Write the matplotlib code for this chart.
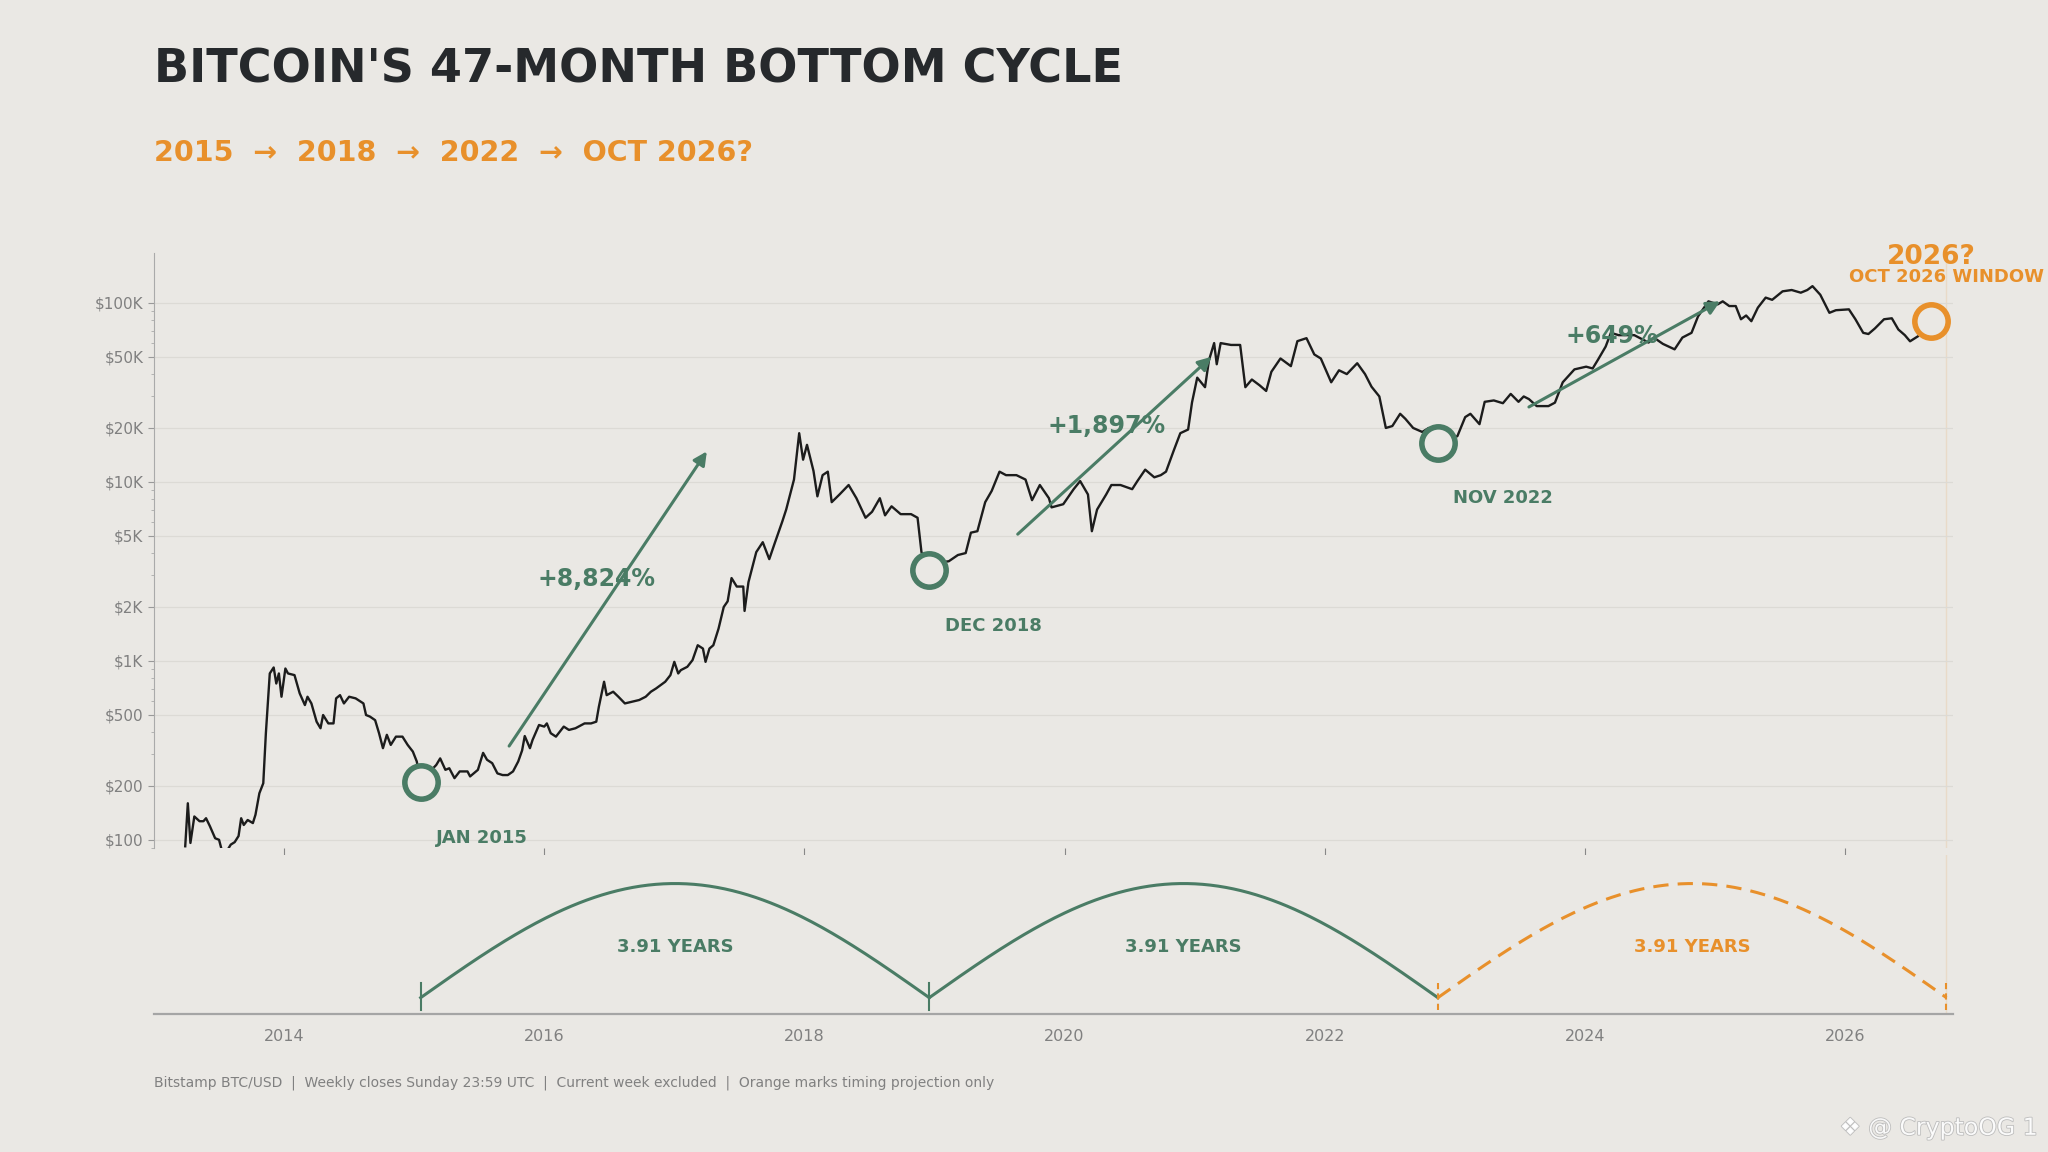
import numpy as np
import matplotlib
matplotlib.use('Agg')
import matplotlib.pyplot as plt
from matplotlib.ticker import NullFormatter, FixedLocator
import matplotlib.patheffects as pe

# weekly closes (decimal year, USD)
dates = [2013.24, 2013.26, 2013.28, 2013.31, 2013.35, 2013.38, 2013.40, 2013.43, 2013.47, 2013.50,
         2013.52, 2013.55, 2013.57, 2013.59, 2013.62, 2013.65, 2013.67, 2013.69, 2013.72, 2013.76,
         2013.78, 2013.81, 2013.84, 2013.86, 2013.89, 2013.92, 2013.94, 2013.96, 2013.98, 2014.01,
         2014.03, 2014.08, 2014.12, 2014.16, 2014.18, 2014.21, 2014.25, 2014.28, 2014.30, 2014.34,
         2014.38, 2014.40, 2014.43, 2014.46, 2014.50, 2014.55, 2014.61, 2014.63, 2014.66, 2014.70,
         2014.73, 2014.76, 2014.79, 2014.82, 2014.86, 2014.91, 2014.95, 2014.99, 2015.02, 2015.05,
         2015.08, 2015.12, 2015.17, 2015.20, 2015.24, 2015.27, 2015.31, 2015.35, 2015.41, 2015.43,
         2015.49, 2015.53, 2015.56, 2015.60, 2015.64, 2015.68, 2015.72, 2015.76, 2015.80, 2015.83,
         2015.85, 2015.89, 2015.91, 2015.96, 2016.00, 2016.02, 2016.05, 2016.09, 2016.15, 2016.19,
         2016.24, 2016.31, 2016.36, 2016.40, 2016.42, 2016.46, 2016.48, 2016.53, 2016.57, 2016.62,
         2016.67, 2016.73, 2016.78, 2016.82, 2016.86, 2016.93, 2016.97, 2017.00, 2017.03, 2017.05,
         2017.10, 2017.14, 2017.18, 2017.22, 2017.24, 2017.27, 2017.30, 2017.34, 2017.38, 2017.41,
         2017.44, 2017.48, 2017.53, 2017.54, 2017.57, 2017.63, 2017.68, 2017.73, 2017.77, 2017.83,
         2017.86, 2017.92, 2017.96, 2017.99, 2018.02, 2018.07, 2018.10, 2018.14, 2018.18, 2018.21,
         2018.27, 2018.34, 2018.40, 2018.47, 2018.52, 2018.58, 2018.62, 2018.67, 2018.74, 2018.82,
         2018.87, 2018.90, 2018.93, 2018.96, 2019.00, 2019.05, 2019.11, 2019.18, 2019.24, 2019.28,
         2019.33, 2019.39, 2019.44, 2019.50, 2019.55, 2019.63, 2019.70, 2019.75, 2019.81, 2019.88,
         2019.90, 2019.99, 2020.07, 2020.12, 2020.18, 2020.21, 2020.25, 2020.32, 2020.36, 2020.43,
         2020.52, 2020.56, 2020.62, 2020.69, 2020.74, 2020.78, 2020.84, 2020.89, 2020.95, 2020.98,
         2021.02, 2021.08, 2021.11, 2021.15, 2021.17, 2021.20, 2021.28, 2021.35, 2021.39, 2021.44,
         2021.50, 2021.55, 2021.59, 2021.66, 2021.74, 2021.79, 2021.86, 2021.92, 2021.97, 2022.05,
         2022.11, 2022.17, 2022.25, 2022.31, 2022.36, 2022.42, 2022.47, 2022.52, 2022.58, 2022.62,
         2022.68, 2022.75, 2022.80, 2022.87, 2022.92, 2023.02, 2023.08, 2023.12, 2023.19, 2023.23,
         2023.30, 2023.37, 2023.43, 2023.49, 2023.53, 2023.57, 2023.63, 2023.72, 2023.77, 2023.83,
         2023.92, 2024.01, 2024.06, 2024.10, 2024.16, 2024.20, 2024.26, 2024.38, 2024.49, 2024.53,
         2024.60, 2024.69, 2024.75, 2024.82, 2024.87, 2024.95, 2025.02, 2025.06, 2025.11, 2025.16,
         2025.20, 2025.24, 2025.28, 2025.33, 2025.39, 2025.44, 2025.52, 2025.59, 2025.66, 2025.71,
         2025.75, 2025.81, 2025.88, 2025.93, 2026.03, 2026.08, 2026.14, 2026.18, 2026.23, 2026.30,
         2026.36, 2026.41, 2026.46, 2026.50, 2026.56]
closes = [92, 160, 96, 135, 127, 127, 132, 119, 102, 100,
          88, 86, 89, 94, 97, 105, 132, 121, 129, 124,
          138, 182, 207, 394, 850, 918, 747, 850, 630, 906,
          850, 832, 658, 566, 630, 578, 457, 420, 498, 447,
          447, 617, 643, 578, 630, 617, 578, 498, 488, 466,
          394, 325, 386, 339, 377, 377, 339, 311, 274, 210,
          230, 240, 262, 285, 246, 251, 221, 241, 241, 226,
          246, 306, 280, 268, 235, 230, 230, 241, 274, 316,
          380, 325, 361, 438, 429, 447, 394, 377, 429, 411,
          420, 447, 447, 457, 554, 764, 643, 672, 630, 578,
          590, 604, 630, 672, 701, 764, 832, 987, 850, 887,
          926, 1009, 1222, 1171, 987, 1171, 1222, 1513, 2000, 2150,
          2900, 2600, 2600, 1900, 2750, 4050, 4600, 3700, 4500, 6000,
          7000, 10300, 18700, 13300, 16100, 11500, 8300, 10900, 11400, 7700,
          8500, 9600, 8100, 6300, 6800, 8100, 6500, 7300, 6600, 6600,
          6300, 4050, 3700, 3200, 3700, 3550, 3600, 3900, 4000, 5200,
          5300, 7700, 8900, 11400, 10900, 10900, 10300, 7900, 9600, 8100,
          7200, 7500, 9100, 10100, 8500, 5300, 7000, 8500, 9600, 9600,
          9100, 10100, 11700, 10600, 10900, 11400, 15000, 18700, 19600, 27800,
          38200, 33800, 47700, 59600, 45400, 59600, 58200, 58200, 33800, 37300,
          34600, 32200, 41200, 48900, 44300, 61100, 63500, 51500, 48900, 36000,
          42000, 40000, 46000, 40000, 34000, 30000, 20000, 20500, 24000, 22500,
          20000, 19000, 20000, 16500, 16800, 18000, 23000, 24000, 21000, 28000,
          28500, 27500, 31000, 28000, 30000, 29000, 26500, 26500, 27700, 36000,
          42500, 44000, 43000, 48000, 57000, 68000, 66000, 66000, 60000, 64000,
          59000, 55000, 64000, 68000, 84000, 102000, 98000, 102000, 96000, 96000,
          81000, 85000, 79000, 94000, 107000, 104000, 116000, 118000, 114000, 118000,
          124000, 111000, 88000, 91000, 92000, 81000, 68000, 67000, 72000, 81000,
          82000, 71000, 66000, 61000, 65000]

# cycle bottoms
bottom_dates = [2015.05, 2018.96, 2022.87]
bottom_prices = [209, 3200, 16500]
bottom_labels = ['JAN 2015', 'DEC 2018', 'NOV 2022']
next_bottom_date = 2026.78
proj_date = 2026.66
proj_price = 79000

# rally arrows
arrow_x0 = [2015.73, 2019.64, 2023.57]
arrow_y0 = [334, 5100, 26200]
arrow_x1 = [2017.25, 2021.13, 2025.04]
arrow_y1 = [14800, 50000, 102000]
gain_x = [2016.40, 2020.32, 2024.21]
gain_y = [2850, 20600, 65000]
gain_labels = ['+8,824%', '+1,897%', '+649%']

ytick_vals = [100, 200, 500, 1000, 2000, 5000, 10000, 20000, 50000, 100000]
ytick_labels = ['$100', '$200', '$500', '$1K', '$2K', '$5K', '$10K', '$20K', '$50K', '$100K']
xtick_years = [2014, 2016, 2018, 2020, 2022, 2024, 2026]

BG = '#EAE8E4'
GREEN = '#4A7C65'
ORANGE = '#E8902B'
GRAY = '#808080'

fig = plt.figure(figsize=(20.48, 11.52), dpi=100, facecolor=BG)

fig.text(0.0752, 0.939, "BITCOIN'S 47-MONTH BOTTOM CYCLE", fontsize=33.2, fontweight='bold',
         color='#26292C', va='center', ha='left')
fig.text(0.0752, 0.867, '2015  \u2192  2018  \u2192  2022  \u2192  OCT 2026?', fontsize=20.5,
         fontweight='bold', color=ORANGE, va='center', ha='left')

# price panel
ax = fig.add_axes([0.0752, 0.2639, 0.8784, 0.5165])
ax.set_facecolor(BG)
ax.set_yscale('log')
ax.set_xlim(2013.0, 2026.83)
ax.set_ylim(90, 190000)
ax.plot(dates, closes, color='#1C1C1C', lw=1.7, zorder=3)

ax.yaxis.set_major_locator(FixedLocator(ytick_vals))
ax.set_yticklabels(ytick_labels)
ax.yaxis.set_minor_formatter(NullFormatter())
ax.set_xticks(xtick_years)
ax.set_xticklabels([])
ax.tick_params(axis='y', which='major', colors='#999999', labelcolor=GRAY, labelsize=11, length=4)
ax.tick_params(axis='y', which='minor', colors='#AAAAAA', length=2)
ax.tick_params(axis='x', colors='#888888', length=5)
for s in ['top', 'right', 'bottom']:
    ax.spines[s].set_visible(False)
ax.spines['left'].set_color('#AAAAAA')
ax.grid(axis='y', which='major', color='#DCDAD5', lw=0.9, zorder=0)
ax.axvline(next_bottom_date, color=ORANGE, alpha=0.15, lw=1, zorder=1)

for i in range(len(bottom_dates)):
    ax.plot(bottom_dates[i], bottom_prices[i], 'o', ms=24, mfc=BG, mec=GREEN, mew=4, zorder=5)
    ax.annotate(bottom_labels[i], (bottom_dates[i], bottom_prices[i]), xytext=(11, -40),
                textcoords='offset points', ha='left', va='center', fontsize=13,
                fontweight='bold', color=GREEN)

for i in range(len(arrow_x0)):
    ax.annotate('', xy=(arrow_x1[i], arrow_y1[i]), xytext=(arrow_x0[i], arrow_y0[i]),
                arrowprops=dict(arrowstyle='-|>', color=GREEN, lw=2.2, mutation_scale=20,
                                shrinkA=0, shrinkB=0), zorder=4)
    ax.text(gain_x[i], gain_y[i], gain_labels[i], fontsize=17, fontweight='bold', color=GREEN,
            ha='center', va='center', zorder=4)

ax.plot(proj_date, proj_price, 'o', ms=24, mfc=BG, mec=ORANGE, mew=4, zorder=5, clip_on=False)
ax.annotate('2026?', (proj_date, proj_price), xytext=(0, 46), textcoords='offset points',
            ha='center', va='center', fontsize=19, fontweight='bold', color=ORANGE,
            annotation_clip=False)
ax.annotate('OCT 2026 WINDOW', (next_bottom_date, proj_price), xytext=(0, 32),
            textcoords='offset points', ha='center', va='center', fontsize=13,
            fontweight='bold', color=ORANGE, annotation_clip=False)

# cycle arc panel
ax2 = fig.add_axes([0.0752, 0.1202, 0.8784, 0.1376])
ax2.set_facecolor(BG)
ax2.set_xlim(2013.0, 2026.83)
ax2.set_ylim(0, 1)
for s in ['top', 'right', 'left']:
    ax2.spines[s].set_visible(False)
ax2.spines['bottom'].set_color('#A5A5A5')
ax2.spines['bottom'].set_linewidth(1.6)
ax2.set_yticks([])
ax2.set_xticks(xtick_years)
ax2.tick_params(axis='x', length=0, pad=11, labelsize=11.5, labelcolor=GRAY)
ax2.axvline(next_bottom_date, color=ORANGE, alpha=0.15, lw=1)

cycle_ends = bottom_dates + [next_bottom_date]
t = np.linspace(0, 1, 200)
for i in range(len(cycle_ends) - 1):
    b0, b1 = cycle_ends[i], cycle_ends[i + 1]
    projected = i == len(cycle_ends) - 2
    col = ORANGE if projected else GREEN
    ls = (0, (5, 3)) if projected else '-'
    ax2.plot(b0 + t * (b1 - b0), 0.10 + 0.72 * np.sin(np.pi * t), color=col, lw=2.2, ls=ls)
    ax2.plot([b0, b0], [0.02, 0.19], color=col, lw=1.5, ls='-' if not projected else (0, (3, 2)))
    ax2.text((b0 + b1) / 2, 0.42, f'{b1 - b0:.2f} YEARS', ha='center', va='center',
             fontsize=13, fontweight='bold', color=col)
ax2.plot([next_bottom_date, next_bottom_date], [0.02, 0.19], color=ORANGE, lw=1.5, ls=(0, (3, 2)))

fig.text(0.0752, 0.060, 'Bitstamp BTC/USD  |  Weekly closes Sunday 23:59 UTC  |  Current week excluded  |  '
         'Orange marks timing projection only', fontsize=10, color=GRAY, va='center', ha='left')

fig.text(0.995, 0.021, '\u2756 @ CryptoOG 1', fontsize=17, color='white', alpha=0.9, ha='right',
         va='center', path_effects=[pe.withStroke(linewidth=1.2, foreground='#B8B8B8')])

fig.savefig('out.png', dpi=100, facecolor=BG)
